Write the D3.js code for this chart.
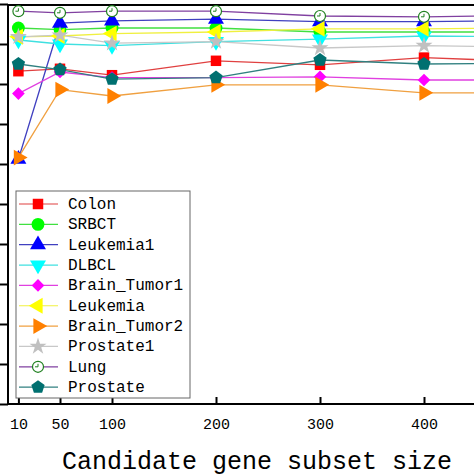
<!DOCTYPE html><html><head><meta charset="utf-8">
<script src="https://cdn.jsdelivr.net/npm/d3@7"></script>
<style>body{margin:0;background:#fff}</style></head><body><svg id="c" width="474" height="474"></svg>
<script>
const sizes=[10,50,100,200,300,400,500];
const xTicks=[10,50,100,200,300,400];
const yTicks=[0.5,0.55,0.6,0.65,0.7,0.75,0.8,0.85,0.9,0.95,1.0];
const names=["Colon","SRBCT","Leukemia1","DLBCL","Brain_Tumor1","Leukemia","Brain_Tumor2","Prostate1","Lung","Prostate"];
const colon=[.916,.919,.911,.929,.924,.933,.928];
const srbct=[.970,.968,.970,.970,.965,.965,.965];
const leukemia1=[.806,.976,.979,.981,.978,.978,.979];
const dlbcl=[.955,.950,.948,.953,.956,.960,.959];
const brain1=[.888,.915,.908,.908,.909,.905,.905];
const leukemia=[.959,.960,.963,.965,.969,.969,.970];
const brain2=[.808,.893,.885,.899,.899,.889,.889];
const prostate1=[.959,.961,.951,.953,.945,.948,.946];
const lung=[.991,.989,.991,.991,.985,.984,.986];
const prostate=[.925,.918,.906,.908,.930,.925,.926];
const series=[colon,srbct,leukemia1,dlbcl,brain1,leukemia,brain2,prostate1,lung,prostate];
const lineCol=["#e04040","#40e040","#4040c0","#40e0e0","#e040e0","#f0f040","#f0a040","#c8c8c8","#8040a0","#308080"];
const markCol=["#ff0000","#00ff00","#0000ff","#00ffff","#ff00ff","#ffff00","#ff8000","#c0c0c0","#208020","#007070"];
const svg=d3.select("#c");
const x=d3.scaleLinear().domain([0,100]).range([8,112]);
const y=d3.scaleLinear().domain([0.5,1.0]).range([404,4]);
svg.append("defs").append("clipPath").attr("id","cp").append("rect").attr("x",8).attr("y",5).attr("width",470).attr("height",400);
svg.append("line").attr("x1",8).attr("x2",474).attr("y1",5).attr("y2",5).attr("stroke","#000").attr("stroke-width",2);
const gx=svg.append("g").attr("transform","translate(0,404)").call(d3.axisBottom(x).tickValues(xTicks).tickSize(-7).tickPadding(14));
gx.select(".domain").attr("d","M8,0H474").attr("stroke-width",2);
gx.selectAll("text").attr("font-family","Liberation Mono").attr("font-size",15).attr("fill","#000");
gx.selectAll("line").attr("stroke-width",2);
const gy=svg.append("g").attr("transform","translate(8,0)").call(d3.axisLeft(y).tickValues(yTicks).tickSize(10).tickFormat(""));
gy.select(".domain").attr("d","M0,5V404").attr("stroke-width",2);
gy.selectAll("line").attr("stroke-width",2);
svg.append("text").attr("x",257).attr("y",469).attr("text-anchor","middle").attr("font-family","Liberation Mono").attr("font-size",25).text("Candidate gene subset size");
function marker(g,i,cx,cy){
  const c=markCol[i];
  if(i===8){
    g.append("circle").attr("cx",cx).attr("cy",cy).attr("r",5.5).attr("fill","#fff").attr("stroke",c).attr("stroke-width",1.2);
    g.append("path").attr("d",`M${cx},${cy-3}V${cy}H${cx-3}`).attr("fill","none").attr("stroke",c);
    return;
  }
  if(i===9){
    const pts=d3.range(5).map(k=>{const a=-Math.PI/2+k*2*Math.PI/5;return [cx+7*Math.cos(a),cy+7*Math.sin(a)];});
    g.append("polygon").attr("points",pts.map(p=>p.join(",")).join(" ")).attr("fill",c);return;
  }
  const sym=[d3.symbolSquare,d3.symbolCircle,d3.symbolTriangle,d3.symbolTriangle,d3.symbolSquare,d3.symbolTriangle,d3.symbolTriangle,d3.symbolStar][i];
  const rot=[0,0,0,180,45,-90,90,0][i];
  const size=[110,130,110,110,80,110,110,90][i];
  g.append("path").attr("d",d3.symbol().type(sym).size(size)()).attr("transform",`translate(${cx},${cy}) rotate(${rot})`).attr("fill",c);
}
const plot=svg.append("g").attr("clip-path","url(#cp)");
const line=d3.line().x((d,j)=>x(sizes[j])).y(d=>y(d));
series.forEach((s,i)=>{
  plot.append("path").attr("d",line(s)).attr("fill","none").attr("stroke",lineCol[i]).attr("stroke-width",1.3);
});
series.forEach((s,i)=>{
  const g=plot.append("g");
  s.forEach((v,j)=>marker(g,i,x(sizes[j]),y(v)));
});
const lg=svg.append("g");
lg.append("rect").attr("x",16).attr("y",191).attr("width",174).attr("height",207).attr("fill","#fff").attr("stroke","#666").attr("stroke-width",1);
names.forEach((n,i)=>{
  const yy=204+i*20.35;
  lg.append("line").attr("x1",19).attr("x2",58).attr("y1",yy).attr("y2",yy).attr("stroke",lineCol[i]).attr("stroke-width",1.2);
  marker(lg,i,38,yy);
  lg.append("text").attr("x",68).attr("y",yy+5).attr("font-family","Liberation Mono").attr("font-size",16).text(n);
});
</script></body></html>
